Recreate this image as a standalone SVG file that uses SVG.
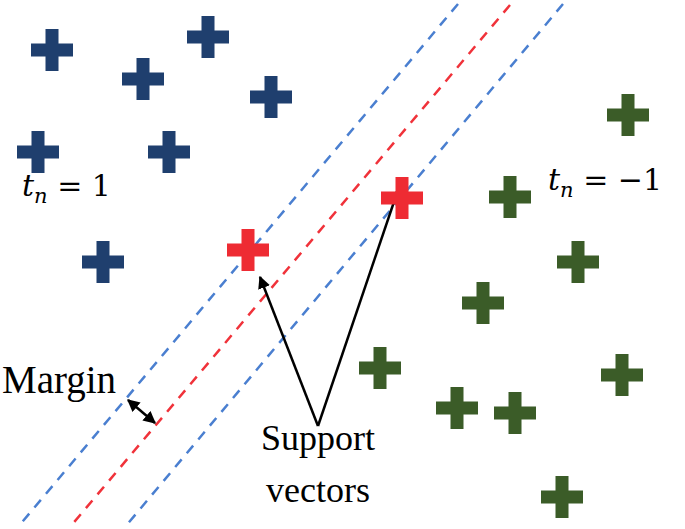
<svg xmlns="http://www.w3.org/2000/svg" width="685" height="529" viewBox="0 0 685 529">
<style>
.b{fill:#1f3f6e}.r{fill:#ee2b33}.g{fill:#3b5c28}
.dl{fill:none;stroke-width:2.5;stroke-dasharray:10 8}
.t{font-family:"Liberation Serif",serif;fill:#000}
.m{font-family:"DejaVu Serif","Liberation Serif",serif;font-size:30px}
.ar{stroke:#000;stroke-width:2.5;fill:none}
</style>
<defs>
<path id="p" d="M-6.5,-21H6.5V-6.5H21V6.5H6.5V21H-6.5V6.5H-21V-6.5H-6.5Z"/>
<marker id="ah" viewBox="0 0 10 10" refX="9" refY="5" markerWidth="5" markerHeight="5" orient="auto-start-reverse"><path d="M0,0L10,5L0,10Z" fill="#000"/></marker>
</defs>
<rect width="685" height="529" fill="#fff"/>
<g id="connectors">
<line class="dl" x1="458" y1="4" x2="18" y2="527" stroke="#4a7fd0"/>
<line class="dl" x1="510" y1="5" x2="70" y2="527" stroke="#f0323a"/>
<line class="dl" x1="563" y1="4" x2="125" y2="527" stroke="#4a7fd0"/>
<line class="ar" x1="128" y1="400" x2="155" y2="423" marker-start="url(#ah)" marker-end="url(#ah)"/>
<line class="ar" x1="318" y1="426" x2="260" y2="277" marker-end="url(#ah)"/>
<line class="ar" x1="318" y1="426" x2="398" y2="190" marker-end="url(#ah)"/>
</g>
<g id="class1">
<use href="#p" class="b" x="52" y="50"/><use href="#p" class="b" x="208" y="37"/><use href="#p" class="b" x="143" y="79"/>
<use href="#p" class="b" x="271" y="97"/><use href="#p" class="b" x="38" y="152"/><use href="#p" class="b" x="169" y="152"/>
<use href="#p" class="b" x="103" y="262"/>
</g>
<g id="support">
<use href="#p" class="r" x="248" y="250"/><use href="#p" class="r" x="402" y="198"/>
</g>
<g id="class2">
<use href="#p" class="g" x="628" y="115"/><use href="#p" class="g" x="510" y="197"/><use href="#p" class="g" x="578" y="262"/>
<use href="#p" class="g" x="483" y="303"/><use href="#p" class="g" x="380" y="368"/><use href="#p" class="g" x="622" y="375"/>
<use href="#p" class="g" x="457" y="408"/><use href="#p" class="g" x="515" y="413"/><use href="#p" class="g" x="562" y="497"/>
</g>
<g id="labels">
<text class="m" x="22" y="196"><tspan font-style="italic">t</tspan><tspan font-style="italic" style="font-size:21px" dy="7">n</tspan><tspan dy="-7"> = 1</tspan></text>
<text class="m" x="548" y="190"><tspan font-style="italic">t</tspan><tspan font-style="italic" style="font-size:21px" dy="7">n</tspan><tspan dy="-7"> = −1</tspan></text>
<text class="t" x="2" y="393" style="font-size:39px">Margin</text>
<text class="t" x="318" y="450" style="font-size:36px" text-anchor="middle">Support</text>
<text class="t" x="318" y="502" style="font-size:36px" text-anchor="middle">vectors</text>
</g>
</svg>
